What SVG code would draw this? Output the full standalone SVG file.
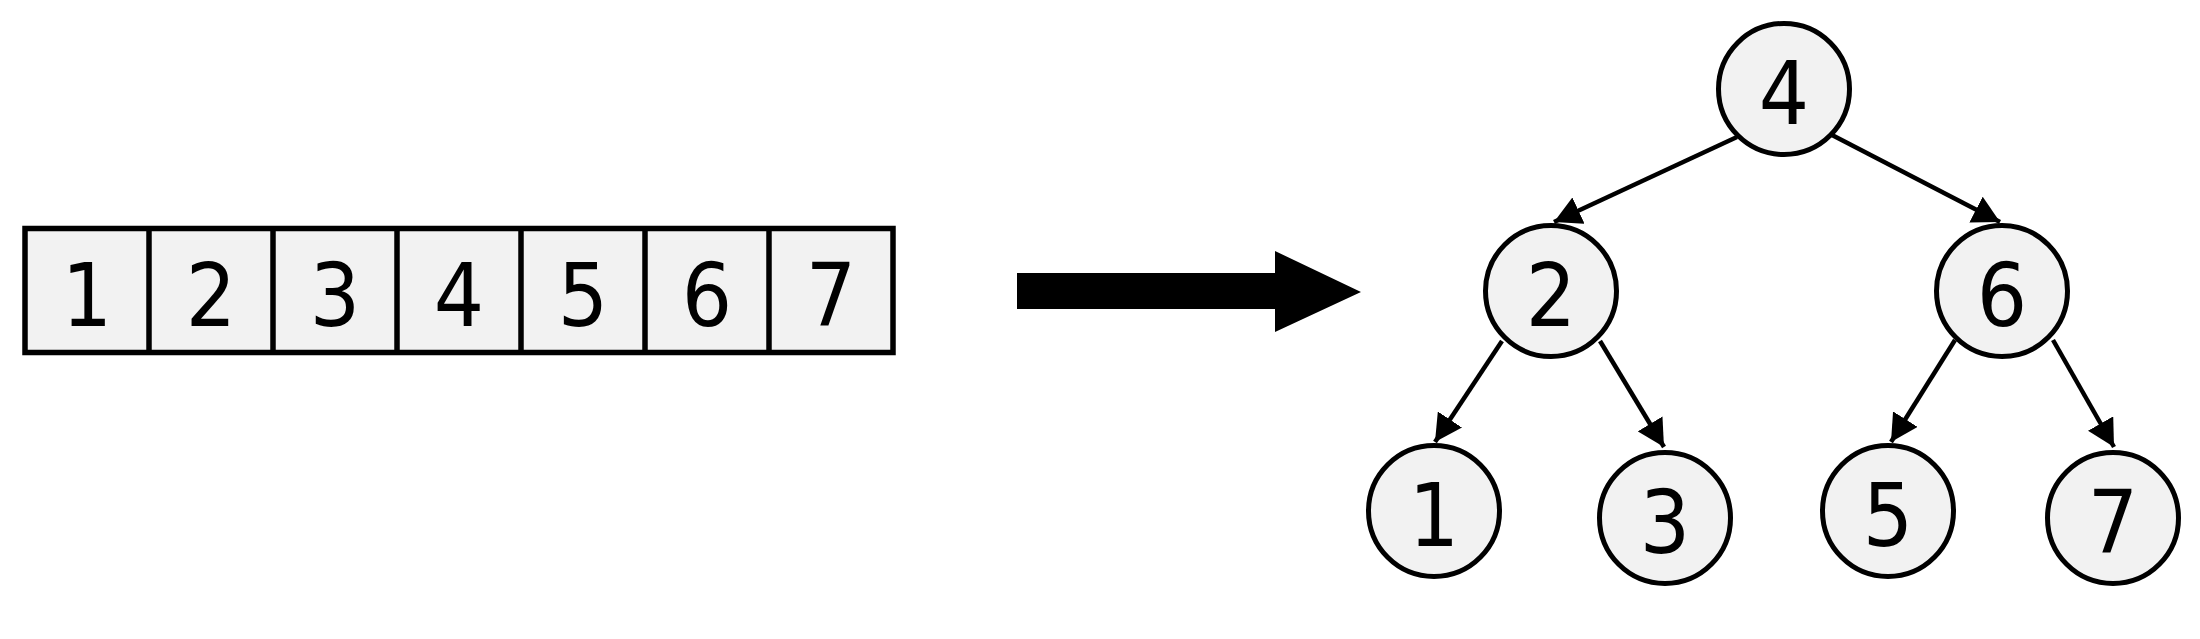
<svg xmlns="http://www.w3.org/2000/svg" width="2200" height="639" viewBox="0 0 2200 639">
<style>
.cell{fill:#f2f2f2;stroke:#000;stroke-width:5.5}
.div{stroke:#000;stroke-width:5.5}
.node{fill:#f2f2f2;stroke:#000;stroke-width:5}
.lbl{font-family:"DejaVu Sans Condensed","DejaVu Sans",sans-serif;font-size:88px;fill:#000;text-anchor:middle}
.edge{stroke:#000;stroke-width:4.5;fill:none;marker-end:url(#ah)}
</style>
<defs>
<marker id="ah" markerUnits="userSpaceOnUse" markerWidth="28" markerHeight="29" refX="27" refY="14.5" orient="auto" viewBox="0 0 28 29">
<path d="M0,0 L27,14.5 L0,29 z" fill="#000"/>
</marker>
</defs>
<g id="array">
<rect class="cell" x="25" y="228.5" width="868" height="124"/>
<line class="div" x1="149" y1="228.5" x2="149" y2="352.5"/>
<line class="div" x1="273" y1="228.5" x2="273" y2="352.5"/>
<line class="div" x1="397" y1="228.5" x2="397" y2="352.5"/>
<line class="div" x1="521" y1="228.5" x2="521" y2="352.5"/>
<line class="div" x1="645" y1="228.5" x2="645" y2="352.5"/>
<line class="div" x1="769" y1="228.5" x2="769" y2="352.5"/>
<text class="lbl" x="87" y="326">1</text>
<text class="lbl" x="211" y="326">2</text>
<text class="lbl" x="335" y="326">3</text>
<text class="lbl" x="459" y="326">4</text>
<text class="lbl" x="583" y="326">5</text>
<text class="lbl" x="707" y="326">6</text>
<text class="lbl" x="831" y="326">7</text>
</g>
<g id="big-arrow">
<polygon points="1017,273 1275,273 1275,251 1361,292 1275,332 1275,309 1017,309" fill="#000"/>
</g>
<g id="connectors">
<line class="edge" x1="1737" y1="137" x2="1554" y2="222"/>
<line class="edge" x1="1832" y1="135" x2="2000" y2="222"/>
<line class="edge" x1="1502" y1="341" x2="1435" y2="442"/>
<line class="edge" x1="1600" y1="341" x2="1664" y2="447"/>
<line class="edge" x1="1955" y1="340" x2="1891" y2="442"/>
<line class="edge" x1="2053" y1="340" x2="2114" y2="447"/>
</g>
<g id="n4"><circle class="node" cx="1784" cy="89" r="65.5"/><text class="lbl" x="1784" y="124">4</text></g>
<g id="n2"><circle class="node" cx="1551" cy="291" r="65.5"/><text class="lbl" x="1551" y="326">2</text></g>
<g id="n6"><circle class="node" cx="2002" cy="291" r="65.5"/><text class="lbl" x="2002" y="326">6</text></g>
<g id="n1"><circle class="node" cx="1434" cy="511" r="65.5"/><text class="lbl" x="1434" y="546">1</text></g>
<g id="n3"><circle class="node" cx="1665" cy="518" r="65.5"/><text class="lbl" x="1665" y="553">3</text></g>
<g id="n5"><circle class="node" cx="1888" cy="511" r="65.5"/><text class="lbl" x="1888" y="546">5</text></g>
<g id="n7"><circle class="node" cx="2113" cy="518" r="65.5"/><text class="lbl" x="2113" y="553">7</text></g>
</svg>
